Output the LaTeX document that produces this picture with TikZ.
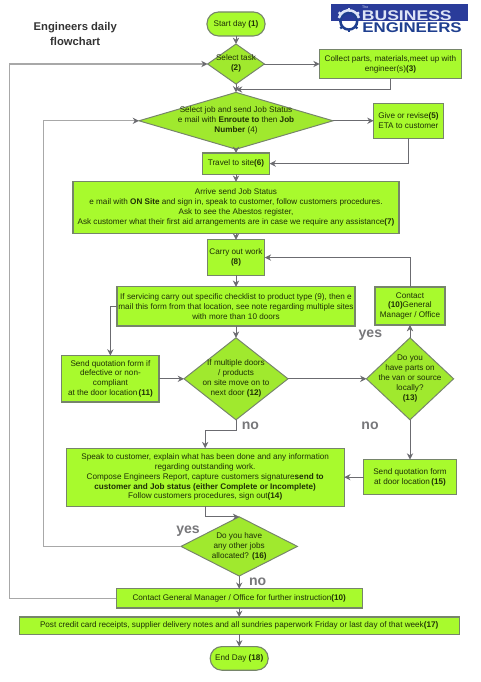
\documentclass[tikz,border=0pt]{standalone}
\usepackage{fontspec}
\setmainfont{Liberation Sans}
\usetikzlibrary{shapes.geometric,arrows.meta}
\definecolor{FlowGreen}{HTML}{A8FA2D}
\definecolor{DecideGreen}{HTML}{A0E92E}
\definecolor{FlowEdge}{HTML}{76856A}
\definecolor{FlowLine}{HTML}{6B6B70}
\definecolor{FlowRail}{HTML}{A8A8A8}
\definecolor{FlowText}{HTML}{1E3006}
\definecolor{FlowWord}{HTML}{77777A}
\definecolor{LogoBlue}{HTML}{2A3C9A}
\definecolor{LogoNavy}{HTML}{1F3F8F}
\definecolor{LogoPale}{HTML}{DDE4F6}
\newcommand{\dtext}[1]{\smash{\makebox[0pt]{\raisebox{-1.4pt}{\begin{tabular}[c]{@{}c@{}}#1\end{tabular}}}}}
\tikzset{
  flowtext/.style={text=FlowText,font=\fontsize{5.8}{7.0}\selectfont,align=center,inner sep=0pt,outer sep=0pt},
  taskbox/.style={flowtext,draw=FlowEdge,line width=0.8pt,fill=FlowGreen},
  termbox/.style={taskbox,rounded corners=0.29cm},
  decide/.style={flowtext,draw=FlowEdge,line width=0.7pt,fill=DecideGreen,shape=diamond},
  flowline/.style={draw=FlowLine,line width=0.7pt,-{Stealth[length=4.5pt,width=4.5pt]}},
  railline/.style={draw=FlowRail,line width=0.8pt,-{Stealth[length=4.5pt,width=4.5pt,color=FlowLine]}},
  flowword/.style={text=FlowWord,font=\bfseries\fontsize{10}{12}\selectfont,inner sep=0pt}
}
\begin{document}
\begin{tikzpicture}[x=1cm,y=1cm]
\path[use as bounding box] (0,0) rectangle (12.00,17.05);
% logo
\fill[LogoBlue] (8.28,16.53) rectangle (11.70,16.95);
\draw[LogoNavy,line width=1.8pt] (8.72,16.52) circle (0.21cm);
\draw[LogoPale,line width=1.8pt] (8.47,16.60) arc (165:15:0.26cm);
\foreach \a in {40,90,140} \draw[LogoPale,line width=1.6pt] (8.72,16.53) ++(\a:0.26) -- ++(\a:0.07);
\foreach \a in {220,270,320} \draw[LogoNavy,line width=1.6pt] (8.72,16.52) ++(\a:0.21) -- ++(\a:0.07);
\node[text=LogoPale,font=\bfseries\fontsize{10}{11}\selectfont,inner sep=0pt,xscale=1.25] (logotop) at (10.17,16.65) {BUSINESS};
\node[text=LogoNavy,font=\bfseries\fontsize{10}{11}\selectfont,inner sep=0pt,xscale=1.2] (logobot) at (10.30,16.35) {ENGINEERS};
\node[text=LogoPale,font=\fontsize{2.5}{3}\selectfont,inner sep=0pt] (logothe) at (9.13,16.88) {The};
% title
\node[align=center,text=black!80,font=\bfseries\fontsize{8}{10}\selectfont,inner sep=0pt] (title) at (1.88,16.20) {Engineers daily\\flowchart};
% boxes
\node[termbox,minimum width=1.45cm,minimum height=0.60cm] (start) at (5.90,16.45) {Start day \textbf{(1)}};
\node[decide,minimum width=1.42cm,minimum height=1.00cm] (task) at (5.90,15.45) {\dtext{Select task\\\textbf{(2)}}};
\node[taskbox,minimum width=3.54cm,minimum height=0.73cm] (collect) at (9.76,15.45) {Collect parts, materials,meet up with\\engineer(s)\textbf{(3)}};
\node[decide,minimum width=4.85cm,minimum height=1.42cm] (job) at (5.90,14.03) {\dtext{Select job and send Job Status\\e mail with \textbf{Enroute to} then \textbf{Job}\\\textbf{Number} (4)}};
\node[taskbox,minimum width=1.74cm,minimum height=0.88cm] (give) at (10.21,14.03) {Give or revise\textbf{(5)}\\ETA to customer};
\node[taskbox,minimum width=1.68cm,minimum height=0.53cm] (travel) at (5.90,12.96) {Travel to site\textbf{(6)}};
\node[taskbox,minimum width=8.15cm,minimum height=1.29cm] (arrive) at (5.90,11.86) {Arrive send Job Status\\e mail with \textbf{ON Site} and sign in, speak to customer, follow customers procedures.\\Ask to see the Abestos register,\\Ask customer what their first aid arrangements are in case we require any assistance\textbf{(7)}};
\node[taskbox,minimum width=1.44cm,minimum height=0.89cm] (carry) at (5.90,10.61) {Carry out work\\\textbf{(8)}};
\node[taskbox,minimum width=5.95cm,minimum height=0.98cm] (service) at (5.90,9.39) {If servicing carry out specific checklist to product type (9), then e\\mail this form from that location, see note regarding multiple sites\\with more than 10 doors};
\node[taskbox,minimum width=1.75cm,minimum height=0.95cm] (contact) at (10.25,9.40) {Contact\\\textbf{(10)}General\\Manager / Office};
\node[taskbox,minimum width=2.43cm,minimum height=1.16cm] (quote) at (2.76,7.58) {Send quotation form if\\defective or non-\\compliant\\at the door location\,\textbf{(11)}};
\node[decide,minimum width=2.60cm,minimum height=2.05cm] (doors) at (5.90,7.58) {\dtext{If multiple doors\\/ products\\on site move on to\\next door \textbf{(12)}}};
\node[decide,minimum width=2.18cm,minimum height=2.05cm] (parts) at (10.25,7.58) {\dtext{Do you\\have parts on\\the van or source\\locally?\\\textbf{(13)}}};
\node[taskbox,minimum width=6.95cm,minimum height=1.45cm] (speak) at (5.13,5.12) {Speak to customer, explain what has been done and any information\\regarding outstanding work.\\Compose Engineers Report, capture customers signature\textbf{send to}\\\textbf{customer and Job status (either Complete or Incomplete)}\\Follow customers procedures, sign out\textbf{(14)}};
\node[taskbox,minimum width=2.31cm,minimum height=0.88cm] (doorform) at (10.25,5.12) {Send quotation form\\at door location\,\textbf{(15)}};
\node[decide,minimum width=2.91cm,minimum height=1.48cm] (other) at (5.98,3.39) {\dtext{Do you have\\any other jobs\\allocated? \textbf{(16)}}};
\node[taskbox,minimum width=6.15cm,minimum height=0.48cm] (manager) at (5.98,2.09) {Contact General Manager / Office for further instruction\textbf{(10)}};
\node[taskbox,minimum width=11.00cm,minimum height=0.43cm] (post) at (5.98,1.41) {Post credit card receipts, supplier delivery notes and all sundries paperwork Friday or last day of that week\textbf{(17)}};
\node[termbox,minimum width=1.45cm,minimum height=0.59cm] (end) at (5.98,0.59) {End Day \textbf{(18)}};
% bends
\coordinate (merge) at (5.90,14.81);
\coordinate (noturn) at (5.13,6.30);
\coordinate (yesrail) at (1.08,3.39);
\coordinate (backrail) at (0.23,2.09);
% connectors
\draw[flowline] (start) -- (task);
\draw[flowline] (task) -- (collect);
\draw[flowline] (task) -- (job);
\draw[flowline] (collect.south) |- (merge);
\draw[flowline] (job) -- (give);
\draw[flowline] (job) -- (travel);
\draw[flowline] (give.south) |- (travel.east);
\draw[flowline] (travel) -- (arrive);
\draw[flowline] (arrive) -- (carry);
\draw[flowline] (carry) -- (service);
\draw[flowline] (contact.north) |- (carry.east);
\draw[flowline] (service.west) -| (quote.north);
\draw[flowline] (service) -- (doors);
\draw[flowline] (quote.east) -- (doors.west);
\draw[flowline] (doors) -- (parts);
\draw[flowline] (parts) -- (contact);
\draw[flowline] (parts) -- (doorform);
\draw[flowline] (doorform) -- (speak);
\draw[flowline] (doors.south) |- (noturn) -- (speak.north);
\draw[flowline] (speak.south) |- (other.north);
\draw[flowline] (other) -- (manager);
\draw[flowline] (manager) -- (post);
\draw[flowline] (post) -- (end);
\draw[railline] (other.west) -- (yesrail) |- (job.west);
\draw[railline] (manager.west) -- (backrail) |- (task.west);
% yes / no
\node[flowword] (yestop) at (9.26,8.66) {yes};
\node[flowword] (nodoors) at (6.26,6.41) {no};
\node[flowword] (noparts) at (9.25,6.41) {no};
\node[flowword] (yesother) at (4.70,3.76) {yes};
\node[flowword] (noother) at (6.44,2.51) {no};
\end{tikzpicture}
\end{document}
